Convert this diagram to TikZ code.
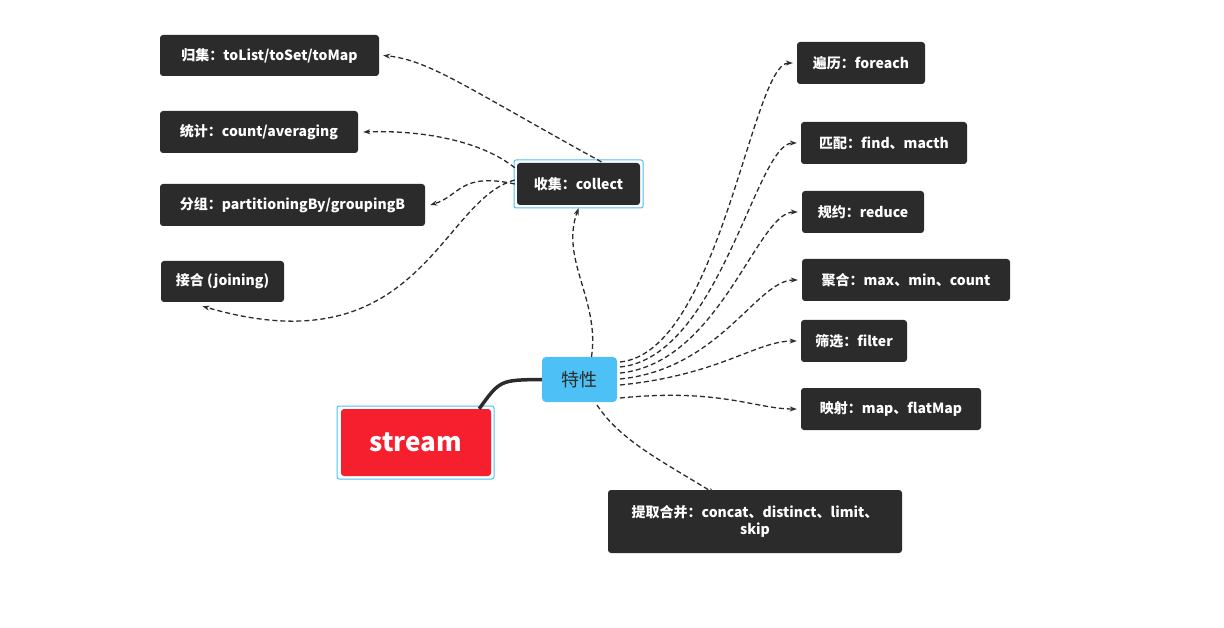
\documentclass[tikz,border=0pt]{standalone}
\usepackage{fontspec}
\setmainfont{Noto Sans CJK SC}
\usetikzlibrary{arrows.meta}
\definecolor{dk}{HTML}{2B2B2B}
\definecolor{sky}{HTML}{4DC0F5}
\definecolor{rd}{HTML}{F61F2E}
\begin{document}
\begin{tikzpicture}[x=1pt,y=-1pt,
 leaf/.style={fill=dk,text=white,rounded corners=3pt,font=\fontsize{14}{17}\selectfont\bfseries,inner sep=0pt,align=center},
 con/.style={dashed,line width=1.3pt,draw=dk,-{Stealth[length=7pt,width=5pt]},dash pattern=on 5pt off 3pt}]
\useasboundingbox (0,0) rectangle (1224,628);
\def\bx#1#2#3#4#5#6{\node[leaf,minimum width={#4-#2},minimum height={#5-#3}] (#1) at ({(#2+#4)/2},{(#3+#5)/2}) {#6};}
% root
\draw[sky,line width=1pt,rounded corners=2pt] (337,406) rectangle (494,479);
\node[fill=rd,text=white,rounded corners=3pt,minimum width=150,minimum height=67,font=\fontsize{26}{30}\selectfont\bfseries] (st) at (416,442.5) {stream};
\node[fill=sky,text=dk,rounded corners=4pt,minimum width=75,minimum height=45,font=\fontsize{18}{22}\selectfont] (tx) at (579.5,379.5) {特性};
\draw[sky,line width=1pt,rounded corners=2pt] (514,160) rectangle (643,208);
\bx{co}{517}{163}{640}{205}{收集：collect}
\bx{a1}{160}{35}{379}{76}{归集：toList/toSet/toMap}
\bx{a2}{160}{111}{358}{153}{统计：count/averaging}
\bx{a3}{160}{184}{425}{226}{分组：partitioningBy/groupingB}
\bx{a4}{161}{261}{284}{302}{接合 (joining)}
\bx{b1}{797}{42}{925}{84}{遍历：foreach}
\bx{b2}{801}{122}{967}{164}{匹配：find、macth}
\bx{b3}{802}{191}{924}{233}{规约：reduce}
\bx{b4}{802}{259}{1010}{301}{聚合：max、min、count}
\bx{b5}{801}{320}{907}{362}{筛选：filter}
\bx{b6}{801}{388}{981}{430}{映射：map、flatMap}
\bx{b7}{608}{490}{902}{553}{提取合并：concat、distinct、limit、\\skip}
\draw[dk,line width=3.5pt] ([xshift=-12pt]st.north east) .. controls (500,380) .. (tx.west);
\draw[con] ([xshift=12pt]tx.north) .. controls (600,300) and (560,260) .. ([yshift=-3pt]co.south);
\draw[con] ([xshift=30pt,yshift=-3pt]co.north) .. controls (470,90) and (430,60) .. ([xshift=4pt]a1.east);
\draw[con] ([xshift=-2pt,yshift=-5pt]co.north west) .. controls (480,140) and (420,130) .. ([xshift=5pt]a2.east);
\draw[con] ([xshift=-2pt]co.west) .. controls (460,172) and (460,196) .. ([xshift=5pt]a3.east);
\draw[con] ([xshift=-2pt,yshift=4pt]co.west) .. controls (440,200) and (420,370) .. ([yshift=-4pt,xshift=-20pt]a4.south);
\foreach \n/\yy in {b1/362, b2/367, b3/373, b4/379, b5/385, b6/398} {
 \draw[con] (620,\yy) .. controls (720,\yy-10) and ([xshift=-45pt]\n.west) .. ([xshift=-4pt]\n.west);
}
\draw[con] (597,405) .. controls (620,440) and (660,460) .. ([xshift=-40pt,yshift=-4pt]b7.north);
\end{tikzpicture}
\end{document}
